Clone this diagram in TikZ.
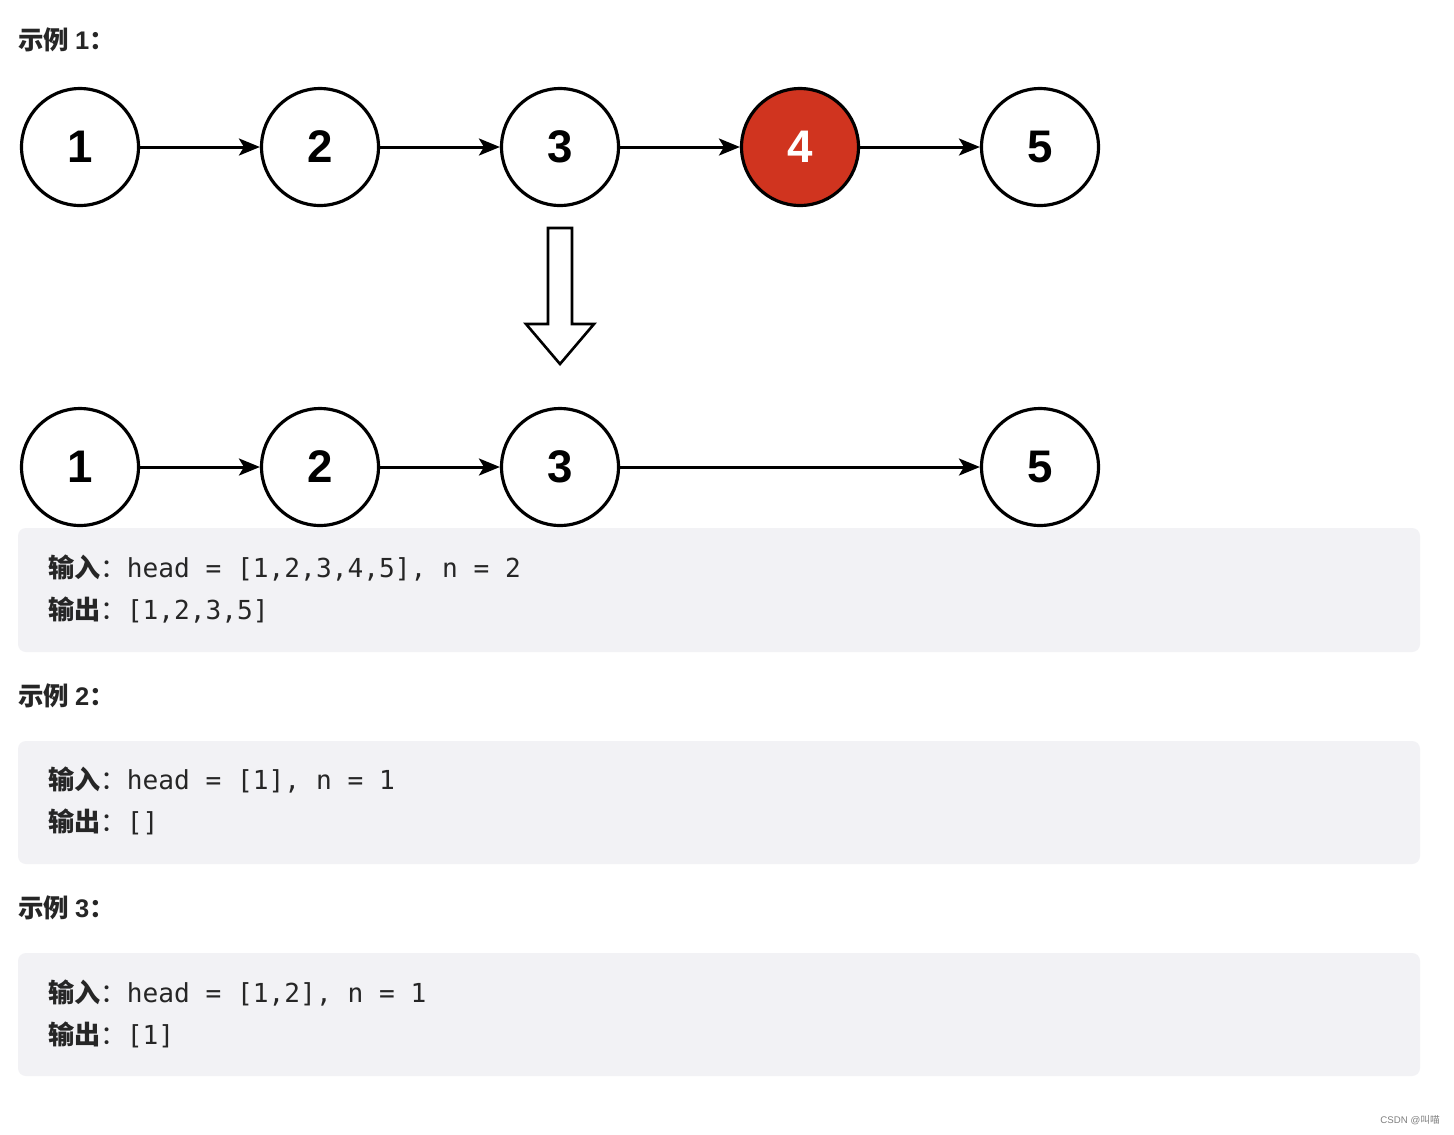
\documentclass[tikz,border=0pt]{standalone}
\usepackage{fontspec}
\setmainfont{Liberation Sans}
\setmonofont{DejaVu Sans Mono}
\newfontfamily\cjk{Noto Sans CJK SC}
\usepackage{tikz}
\usetikzlibrary{arrows.meta}
\definecolor{nodered}{HTML}{D0341F}
\definecolor{codebg}{HTML}{F2F2F5}
\definecolor{txt}{HTML}{262626}

\tikzset{
  listnode/.style={circle, draw=black, fill=white, line width=1.8pt, minimum size=2.34cm, inner sep=0pt, font=\fontsize{26}{26}\selectfont\bfseries},
  link/.style={line width=1.7pt, -{Stealth[length=0.42cm, width=0.34cm, inset=0.1cm]}},
  codebox/.style={fill=codebg, rounded corners=0.16cm},
  heading/.style={anchor=west, inner sep=0pt, text=txt, font=\cjk\fontsize{14.5}{14.5}\selectfont\bfseries},
  codeline/.style={anchor=west, inner sep=0pt, text=txt, font=\ttfamily\fontsize{14.9}{14.9}\selectfont},
}

\begin{document}
\begin{tikzpicture}[x=0.02cm, y=-0.02cm]
\useasboundingbox[fill=white] (0,0) rectangle (1454,1134);

% headings
\node[heading] (ex1) at (18,40) {示例 {\rmfamily 1}：};
\node[heading] (ex2) at (18,696) {示例 {\rmfamily 2}：};
\node[heading] (ex3) at (18,908) {示例 {\rmfamily 3}：};

% grey code boxes
\fill[codebox] (18,528) rectangle (1420,652);
\fill[codebox] (18,741) rectangle (1420,864);
\fill[codebox] (18,953) rectangle (1420,1076);

% list before
\node[listnode] (a1) at (80,147) {1};
\node[listnode] (a2) at (320,147) {2};
\node[listnode] (a3) at (560,147) {3};
\node[listnode, fill=nodered, text=white] (a4) at (800,147) {4};
\node[listnode] (a5) at (1040,147) {5};
\draw[link] (a1) -- (a2);
\draw[link] (a2) -- (a3);
\draw[link] (a3) -- (a4);
\draw[link] (a4) -- (a5);

% hollow arrow
\draw[line width=1.5pt, line join=miter] (548,228) -- (572,228) -- (572,324) -- (594,324) -- (560,364) -- (526,324) -- (548,324) -- cycle;

% list after
\node[listnode] (b1) at (80,467) {1};
\node[listnode] (b2) at (320,467) {2};
\node[listnode] (b3) at (560,467) {3};
\node[listnode] (b5) at (1040,467) {5};
\draw[link] (b1) -- (b2);
\draw[link] (b2) -- (b3);
\draw[link] (b3) -- (b5);

% code
\node[codeline] (in1) at (48,568) {{\cjk{\bfseries 输入}：}head = [1,2,3,4,5], n = 2};
\node[codeline] (out1) at (48,610) {{\cjk{\bfseries 输出}：}[1,2,3,5]};
\node[codeline] (in2) at (48,780) {{\cjk{\bfseries 输入}：}head = [1], n = 1};
\node[codeline] (out2) at (48,822) {{\cjk{\bfseries 输出}：}[]};
\node[codeline] (in3) at (48,993) {{\cjk{\bfseries 输入}：}head = [1,2], n = 1};
\node[codeline] (out3) at (48,1035) {{\cjk{\bfseries 输出}：}[1]};

\node[anchor=east, inner sep=0pt, text=gray, font=\rmfamily\fontsize{5.5}{5.5}\selectfont] (mark) at (1440,1120) {CSDN @{\cjk 叫喵}};
\end{tikzpicture}
\end{document}
